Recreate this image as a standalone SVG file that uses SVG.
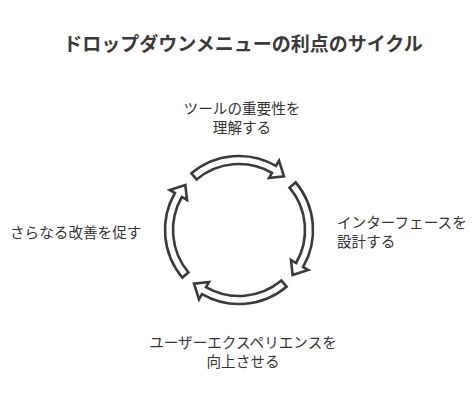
<svg xmlns="http://www.w3.org/2000/svg" xmlns:xlink="http://www.w3.org/1999/xlink" width="474" height="418" viewBox="0 0 474 418">
<style>
.title{font-family:"Noto Sans CJK JP","Noto Sans",sans-serif;font-size:19px;font-weight:bold;fill:#3a3a3a}
.lbl{font-family:"Noto Sans CJK JP","Noto Sans",sans-serif;font-size:14.6px;fill:#333}
.arr{fill:#fff;stroke:#3a3a3a;stroke-width:2.6;stroke-linejoin:miter}
</style>
<defs>
<path id="arc" class="arr" d="M74,0 A74,74 0 0 1 25.31,69.54 L27.36,75.18 L12.16,68.94 L20.52,56.38 L22.57,62.02 A66,66 0 0 0 66,0 Z"/>
</defs>
<rect width="474" height="418" fill="#fff"/>
<text class="title" x="243" y="51" text-anchor="middle">ドロップダウンメニューの利点のサイクル</text>
<g id="connectors">
<use xlink:href="#arc" transform="translate(239,230) rotate(-130)"/>
<use xlink:href="#arc" transform="translate(239,230) rotate(-40)"/>
<use xlink:href="#arc" transform="translate(239,230) rotate(50)"/>
<use xlink:href="#arc" transform="translate(239,230) rotate(140)"/>
</g>
<g id="node-understand">
<text class="lbl" x="242" y="114" text-anchor="middle">ツールの重要性を</text>
<text class="lbl" x="242" y="133" text-anchor="middle">理解する</text>
</g>
<g id="node-design">
<text class="lbl" x="337" y="228">インターフェースを</text>
<text class="lbl" x="337" y="247">設計する</text>
</g>
<g id="node-ux">
<text class="lbl" x="243" y="348" text-anchor="middle">ユーザーエクスペリエンスを</text>
<text class="lbl" x="243" y="367" text-anchor="middle">向上させる</text>
</g>
<g id="node-improve">
<text class="lbl" x="10" y="238">さらなる改善を促す</text>
</g>
</svg>
